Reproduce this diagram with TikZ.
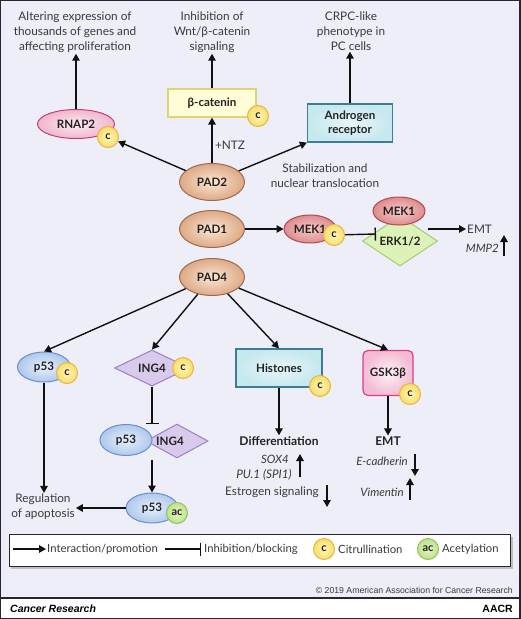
\documentclass[tikz,border=0pt]{standalone}
\usepackage{fontspec}
\setmainfont{Lato}
\newfontfamily\crfont{Liberation Sans}
\usetikzlibrary{shapes.geometric,arrows.meta}
\definecolor{bgc}{HTML}{EEEEF8}
\definecolor{framec}{HTML}{2A2430}
\definecolor{txtc}{HTML}{3A3A3A}
\definecolor{lblc}{HTML}{222222}
\definecolor{arc}{HTML}{111111}
\definecolor{padb}{HTML}{9C6B4E}
\definecolor{padi}{HTML}{FBE6D4}
\definecolor{pado}{HTML}{DDA985}
\definecolor{mekb}{HTML}{B04A50}
\definecolor{meki}{HTML}{F6CACA}
\definecolor{meko}{HTML}{DE8C8E}
\definecolor{rnb}{HTML}{C83C78}
\definecolor{rni}{HTML}{FCEAF1}
\definecolor{rno}{HTML}{F0B6CC}
\definecolor{p53b}{HTML}{6A90C8}
\definecolor{p53i}{HTML}{E6F0FC}
\definecolor{p53o}{HTML}{AFC8EC}
\definecolor{ingb}{HTML}{9A80C0}
\definecolor{ingf}{HTML}{D9CAEC}
\definecolor{erkb}{HTML}{A2CC74}
\definecolor{erkf}{HTML}{DCF2B8}
\definecolor{boxb}{HTML}{3E7C92}
\definecolor{boxi}{HTML}{E6F6F8}
\definecolor{boxo}{HTML}{C6E8EF}
\definecolor{bcb}{HTML}{E2D276}
\definecolor{bcf}{HTML}{FFFCD8}
\definecolor{gskb}{HTML}{D8408A}
\definecolor{gski}{HTML}{FDF2F7}
\definecolor{gsko}{HTML}{F3BBD3}
\definecolor{cbd}{HTML}{E2B848}
\definecolor{cbi}{HTML}{FFF6B8}
\definecolor{cbo}{HTML}{F9DC6A}
\definecolor{acd}{HTML}{92C25E}
\definecolor{aci}{HTML}{E4F6C2}
\definecolor{aco}{HTML}{BDE28A}
\tikzset{
  txt/.style={font=\fontsize{11.8}{15}\selectfont, text=txtc, align=center, inner sep=1pt},
  legtxt/.style={font=\fontsize{11.3}{14}\selectfont, text=txtc, inner sep=1pt},
  itx/.style={font=\fontsize{11.5}{15}\selectfont\itshape, text=txtc, inner sep=1pt},
  btx/.style={font=\fontsize{12}{15}\selectfont\bfseries, text=lblc, inner sep=1pt},
  lbl/.style={font=\fontsize{11.6}{14}\selectfont\bfseries, text=lblc},
  ar/.style={draw=arc, line width=1.4pt, -{Triangle[length=7pt,width=7.5pt]}},
  inh/.style={draw=arc, line width=1.4pt, -{Bar[width=13pt,line width=1.4pt]}},
  pad/.style={ellipse, lbl, draw=padb, line width=1pt, inner color=padi, outer color=pado, minimum width=65pt, minimum height=37pt, inner sep=0pt},
  mek/.style={ellipse, lbl, draw=mekb, line width=1pt, inner color=meki, outer color=meko, minimum width=52pt, minimum height=28pt, inner sep=0pt},
  p53s/.style={ellipse, lbl, draw=p53b, line width=1pt, inner color=p53i, outer color=p53o, minimum width=53pt, minimum height=30pt, inner sep=0pt},
  ings/.style={diamond, lbl, draw=ingb, line width=1pt, fill=ingf, minimum width=75pt, minimum height=33pt, inner sep=0pt},
  bx/.style={rectangle, lbl, draw=boxb, line width=1.2pt, inner color=boxi, outer color=boxo, align=center, inner sep=0pt},
  cb/.style={circle, draw=cbd, line width=1pt, inner color=cbi, outer color=cbo, minimum size=21pt, inner sep=0pt, font=\fontsize{11}{11}\selectfont\bfseries, text=lblc},
  acb/.style={circle, draw=acd, line width=1pt, inner color=aci, outer color=aco, minimum size=21pt, inner sep=0pt, font=\fontsize{11}{11}\selectfont\bfseries, text=lblc},
}
\begin{document}
\begin{tikzpicture}[x=1pt,y=-1pt]
\useasboundingbox (0,0) rectangle (520,619);
\fill[bgc] (0,0) rectangle (520,598);
\fill[white] (0,598) rectangle (520,619);
\draw[framec, line width=1.5pt] (0,598) -- (520,598);
\draw[framec, line width=2.5pt] (0,0) rectangle (520,619);

% top texts
\node[txt, anchor=north] (t1) at (75,10.5) {Altering expression of\\thousands of genes and\\affecting proliferation};
\node[txt, anchor=north] (t2) at (212,10.5) {Inhibition of\\Wnt/β-catenin\\signaling};
\node[txt, anchor=north] (t3) at (351,10.5) {CRPC-like\\phenotype in\\PC cells};

% PAD2 targets
\node[ellipse, lbl, draw=rnb, line width=1pt, inner color=rni, outer color=rno, minimum width=77pt, minimum height=29pt, inner sep=0pt] (rnap2) at (76,124) {RNAP2};
\node[cb] (rnapc) at (108,137) {c};
\node[rectangle, lbl, draw=bcb, line width=1.2pt, fill=bcf, minimum width=88pt, minimum height=28pt] (bcat) at (212,103) {β-catenin};
\node[cb] (bcatc) at (258,116) {c};
\node[bx, minimum width=85pt, minimum height=38pt] (ar) at (350,123) {Androgen\\receptor};

% PADs
\node[pad] (pad2) at (212,182) {PAD2};
\node[pad] (pad1) at (212,229) {PAD1};
\node[pad] (pad4) at (212,277) {PAD4};

\draw[ar] (rnap2) -- (t1.south -| rnap2);
\draw[ar] (bcat) -- (t2.south);
\draw[ar] (ar) -- (t3.south -| ar);
\draw[ar] (pad2) -- (bcat);
\node[txt] (ntz) at (230,145) {+NTZ};
\draw[ar] (pad2) -- (rnapc);
\draw[ar] (pad2) -- (ar.south west);
\node[txt] (stab) at (325,176) {Stabilization and\\nuclear translocation};

% PAD1 branch
\node[mek] (mek1a) at (310,229) {MEK1};
\node[cb] (mekc) at (334,235) {c};
\draw[ar] (pad1) -- (mek1a);
\node[diamond, lbl, draw=erkb, line width=1pt, fill=erkf, minimum width=75pt, minimum height=33pt, inner sep=0pt] (erk) at (400,241) {ERK1/2};
\node[mek] (mek1b) at (399,211) {MEK1};
\coordinate (inhend) at (376,234);
\draw[inh] (mekc) -- (inhend);
\coordinate (emtstart) at (428,229);
\node[txt, anchor=west] (emt1) at (466,229) {EMT};
\draw[ar] (emtstart) -- (emt1.west);
\node[itx, anchor=east] (mmp2) at (500,248) {MMP2};
\coordinate (mmpa) at (504,256);
\coordinate (mmpb) at (504,235);
\draw[ar] (mmpa) -- (mmpb);

% PAD4 targets
\node[p53s] (p53a) at (44,367) {p53};
\node[cb] (p53c) at (67,373) {c};
\node[ings] (ing4) at (152,368) {ING4};
\node[cb] (ingc) at (183,368) {c};
\node[bx, minimum width=86pt, minimum height=38pt] (hist) at (279,368) {Histones};
\node[cb] (histc) at (320,386) {c};
\node[rectangle, rounded corners=5pt, lbl, draw=gskb, line width=1.2pt, inner color=gski, outer color=gsko, minimum width=50pt, minimum height=45pt, inner sep=0pt] (gsk) at (388,373) {GSK3β};
\node[cb] (gskc) at (410,394) {c};

\draw[ar] (pad4) -- (p53a.north);
\draw[ar] (pad4) -- (ing4.north);
\draw[ar] (pad4) -- (hist.north);
\draw[ar] (pad4) -- (gsk.north);

% left column
\node[txt] (reg) at (43,507) {Regulation\\of apoptosis};
\draw[ar] (p53a) -- (reg.north -| p53a);

% complex
\node[diamond, draw=ingb, line width=1pt, fill=ingf, minimum width=62pt, minimum height=34pt, inner sep=0pt] (ing4b) at (177,441) {};
\node[p53s, minimum width=52pt, minimum height=31pt] (p53b) at (126,440) {p53};
\node[lbl] (ing4bt) at (170,441) {ING4};
\coordinate (cplxtop) at (152,424);
\draw[inh] (ing4) -- (cplxtop);
\coordinate (cplxbot) at (152,460);
\node[p53s, minimum width=52pt, minimum height=30pt] (p53ac) at (152,508) {p53};
\node[acb] (acbad) at (177,513) {ac};
\draw[ar] (cplxbot) -- (p53ac);
\draw[ar] (p53ac) -- (reg.east |- p53ac);

% histones column
\node[btx] (diff) at (279,441) {Differentiation};
\draw[ar] (hist) -- (diff.north);
\node[itx] (sox4) at (275,459) {SOX4};
\node[txt] (pu1) at (264,475) {\itshape PU.1 (SPI1)};
\coordinate (soxa) at (300,477);
\coordinate (soxb) at (300,454);
\draw[ar] (soxa) -- (soxb);
\node[txt] (estr) at (272,492) {Estrogen signaling};
\coordinate (esta) at (327,485);
\coordinate (estb) at (327,507);
\draw[ar] (esta) -- (estb);

% GSK column
\node[btx] (emt2) at (388,441) {EMT};
\draw[ar] (gsk) -- (emt2.north);
\node[itx] (ecad) at (382,461) {E-cadherin};
\coordinate (ecada) at (415,454);
\coordinate (ecadb) at (415,476);
\draw[ar] (ecada) -- (ecadb);
\node[itx] (vim) at (382,492) {Vimentin};
\coordinate (vima) at (410,500);
\coordinate (vimb) at (410,478);
\draw[ar] (vima) -- (vimb);

% legend
\fill[black!25] (11,537) rectangle (513,569);
\draw[framec, line width=1pt, fill=white] (9,534) rectangle (510,566);
\coordinate (la) at (13,549);
\node[legtxt, anchor=west] (lt1) at (46,549) {Interaction/promotion};
\draw[ar] (la) -- (lt1.west);
\coordinate (lb) at (165,549);
\coordinate (lbe) at (201,549);
\draw[inh] (lb) -- (lbe);
\node[legtxt, anchor=west] (lt2) at (203,549) {Inhibition/blocking};
\node[cb] (lc) at (324,549) {c};
\node[legtxt, anchor=west] (lt3) at (337,549) {Citrullination};
\node[acb] (lac) at (428,549) {ac};
\node[legtxt, anchor=west] (lt4) at (441,549) {Acetylation};

\node[anchor=east, font=\crfont\fontsize{8.7}{10}\selectfont, text=txtc, inner sep=0pt] (copy) at (513,590) {© 2019 American Association for Cancer Research};
\node[anchor=west, font=\crfont\fontsize{10.5}{11}\selectfont\bfseries\itshape, text=black, inner sep=0pt] (cr) at (10,608.5) {Cancer Research};
\node[anchor=east, font=\crfont\fontsize{10.5}{11}\selectfont\bfseries, text=black, inner sep=0pt] (aacr) at (513,608.5) {AACR};
\end{tikzpicture}
\end{document}
